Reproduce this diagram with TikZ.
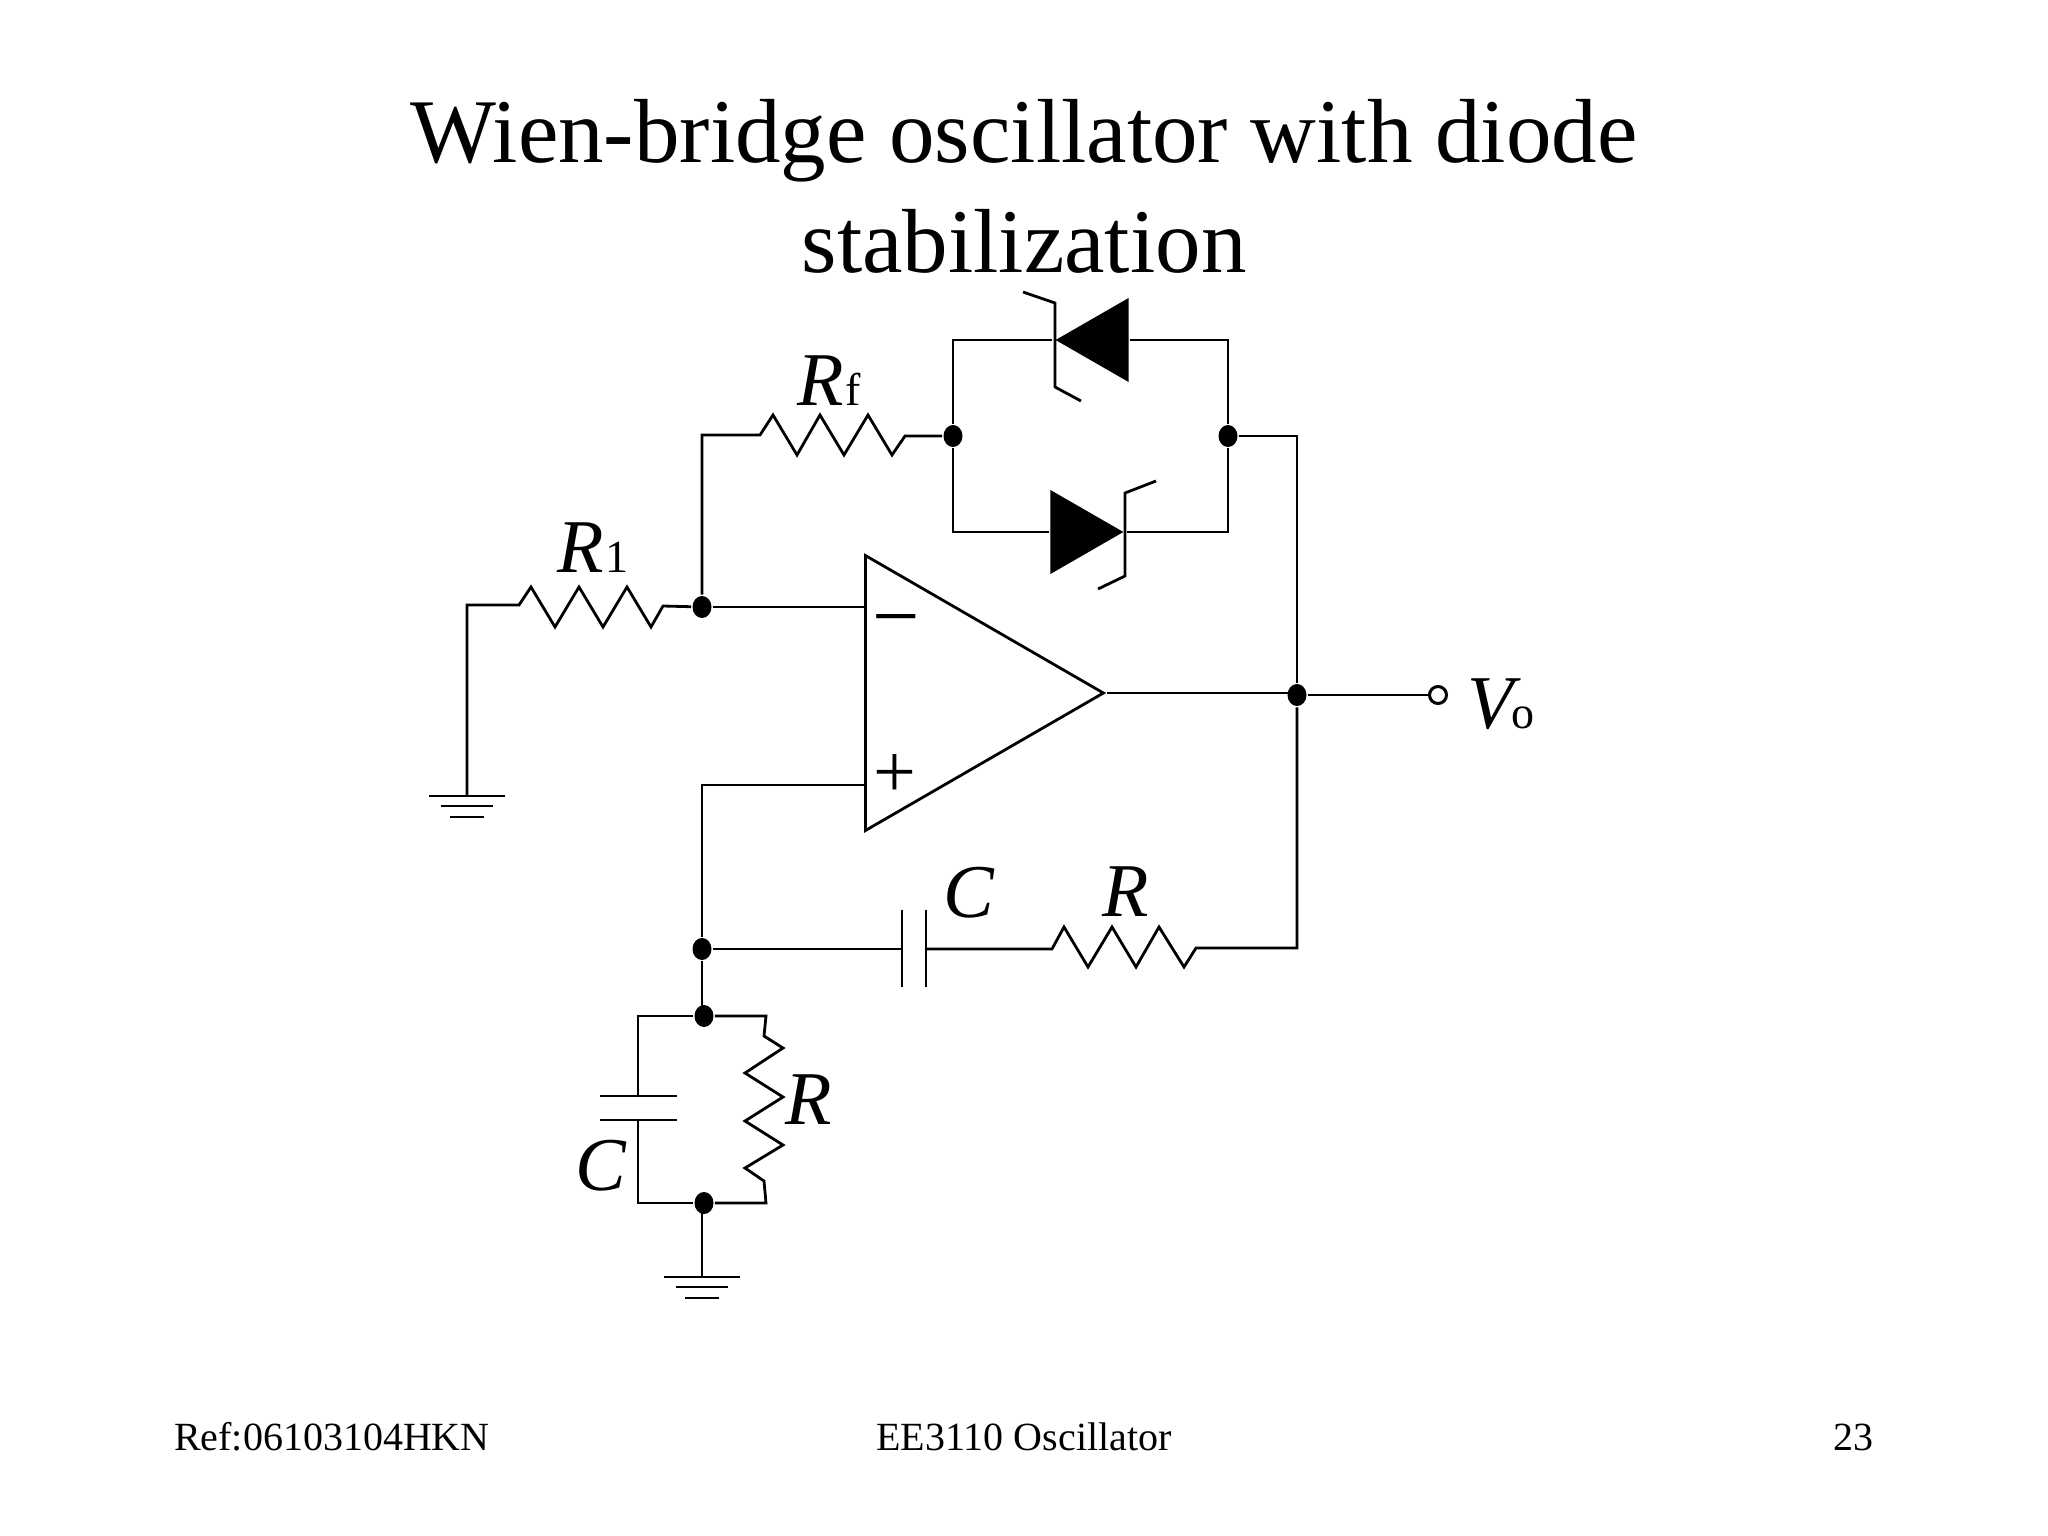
\documentclass[tikz,border=0pt]{standalone}
\usepackage{fontspec}
\setmainfont{Liberation Serif}
\usetikzlibrary{shapes.geometric}
\newcommand{\Low}[2]{\kern#1pt{\fontsize{46}{46}\selectfont\upshape #2}}
\tikzset{Bullet/.style={ellipse,fill=black,draw=none,inner sep=0pt,minimum width=19pt,minimum height=22pt}}
\tikzset{Label/.style={font=\fontsize{76}{76}\selectfont\itshape,inner sep=0pt,anchor=base west}}
\tikzset{Title/.style={font=\fontsize{91}{91}\selectfont,inner sep=0pt,anchor=base}}
\tikzset{Foot/.style={font=\fontsize{40}{40}\selectfont,inner sep=0pt,anchor=base}}
\tikzset{Diode/.style={isosceles triangle,isosceles triangle stretches,fill=black,inner sep=0pt,minimum width=84pt,minimum height=73pt,shape border rotate=#1}}
\begin{document}
\begin{tikzpicture}[x=1pt,y=-1pt,line width=2.8pt,line join=miter]
        \useasboundingbox (0,0) rectangle (2048,1536);
        % title and footer
        \node[Title] (T1) at (1024,162){Wien-bridge oscillator with diode};
        \node[Title] (T2) at (1024,272){stabilization};
        \node[Foot] (F1) at (332,1450){Ref:06103104HKN};
        \node[Foot] (F2) at (1024,1450){EE3110 Oscillator};
        \node[Foot] (F3) at (1853,1450){23};

        % junctions
        \node[Bullet] (J1) at (702,607){};
        \node[Bullet] (DL) at (953,436){};
        \node[Bullet] (DR) at (1228,436){};
        \node[Bullet] (JO) at (1297,695){};
        \node[Bullet] (J2) at (702,949){};
        \node[Bullet] (J3) at (704,1016){};
        \node[Bullet] (J4) at (704,1203){};
        \node[circle,draw,fill=white,inner sep=0pt,minimum size=17pt,line width=3pt] (Vo) at (1438,695){};

        % op amp and diodes
        \node[isosceles triangle,isosceles triangle stretches,draw,inner sep=0pt,minimum width=275pt,minimum height=238pt,anchor=lower side] (OA) at (864,693){};
        \node[Diode=180,anchor=lower side] (DT) at (1130,340){};
        \node[Diode=0,anchor=lower side] (DB) at (1049,532){};
        \coordinate (In) at (864,607);
        \coordinate (Ip) at (864,785);
        \coordinate (G1) at (467,796);
        \coordinate (G2) at (702,1277);
        \coordinate (CH1) at (902,949);
        \coordinate (CH2) at (926,949);
        \coordinate (CV1) at (638,1096);
        \coordinate (CV2) at (638,1120);

        % labels
        \node[Label] (LR1) at (556,572){R\Low{2}{1}};
        \node[Label] (LRf) at (796,405){R\Low{2}{f}};
        \node[Label] (LVo) at (1466,728){V\Low{-2}{o}};
        \node[Label] (LC1) at (942,917){C};
        \node[Label] (LR2) at (1101,916){R};
        \node[Label] (LR3) at (784,1124){R};
        \node[Label] (LC2) at (574,1190){C};
        \node[font=\fontsize{76}{76}\selectfont,inner sep=0pt] (Lp) at (895,776){+};
        \node[font=\fontsize{84}{84}\selectfont,inner sep=0pt] (Lm) at (896,630){−};

        % wires with resistors
        \draw (G1) |- (509,605) -- (519,605) -- (531,587) -- (555,627) -- (579,587) -- (603,627) -- (627,587) -- (651,627) -- (663,606) -- (J1);
        \draw (J1) |- (760,435) -- (773,415) -- (797,455) -- (820,415) -- (844,455) -- (868,415) -- (892,455) -- (905,436) -- (DL);
        \draw (J1) -- (In);
        \draw (J2) |- (Ip);
        \draw (J2) -- (CH1);
        \draw (CH2) -- (1052,949) -- (1064,927) -- (1088,967) -- (1112,927) -- (1136,967) -- (1159,927) -- (1184,967) -- (1196,948) -| (JO);
        \draw (J2) -- (J3 -| J2);
        \draw (J3) -- (766,1016) -- (764,1036) -- (783,1048) -- (745,1073) -- (783,1097) -- (745,1121) -- (783,1145) -- (745,1168) -- (764,1181) -- (766,1203) -- (J4);
        \draw (CV1) |- (J3);
        \draw (CV2) |- (J4);
        \draw (G2 |- J4) -- (G2);

        % diode branches
        \draw (DL) |- (DT.apex);
        \draw (DT.lower side) -| (DR);
        \draw (DL) |- (DB.lower side);
        \draw (DB.apex) -| (DR);
        \draw (1023,292) -- (1055,303) -- (1055,387) -- (1081,401);
        \draw (1156,481) -- (1125,493) -- (1125,576) -- (1098,589);
        \draw (DR) -| (JO);
        \draw (OA.apex) -- (OA.apex -| JO);
        \draw (JO) -- (Vo);

        % capacitor plates
        \draw (CH1 |- 0,910) -- (CH1 |- 0,987);
        \draw (CH2 |- 0,910) -- (CH2 |- 0,987);
        \draw (600,1096) -- (677,1096);
        \draw (600,1120) -- (677,1120);

        % grounds
        \foreach \g in {G1,G2}{
            \draw ([xshift=-38pt]\g) -- ([xshift=38pt]\g);
            \draw ([xshift=-26pt,yshift=-10pt]\g) -- ([xshift=26pt,yshift=-10pt]\g);
            \draw ([xshift=-17pt,yshift=-21pt]\g) -- ([xshift=17pt,yshift=-21pt]\g);
        }
\end{tikzpicture}
\end{document}
